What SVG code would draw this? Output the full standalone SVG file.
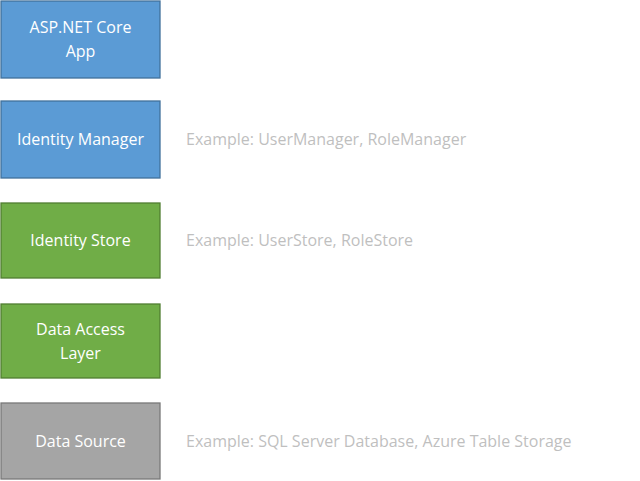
<svg xmlns="http://www.w3.org/2000/svg" width="640" height="481" viewBox="0 0 640 481">
<style>
rect{stroke-width:1.3}
.b{fill:#5B9BD5;stroke:#41719C}
.g{fill:#70AD47;stroke:#507E32}
.s{fill:#A5A5A5;stroke:#787878}
text{font-family:"Open Sans","Liberation Sans",sans-serif;font-size:16px}
.w{fill:#fff;text-anchor:middle}
.e{fill:#BFBFBF}
</style>
<rect width="640" height="481" fill="#fff"/>
<g id="aspnet"><rect class="b" x="1" y="1" width="159" height="77"/><text class="w" x="80.5" y="33">ASP.NET Core</text><text class="w" x="80.5" y="57">App</text></g>
<g id="manager"><rect class="b" x="1" y="101" width="159" height="77"/><text class="w" x="80.5" y="145">Identity Manager</text></g>
<g id="store"><rect class="g" x="1" y="203" width="159" height="75"/><text class="w" x="80.5" y="246">Identity Store</text></g>
<g id="dal"><rect class="g" x="1" y="304" width="159" height="74"/><text class="w" x="80.5" y="335">Data Access</text><text class="w" x="80.5" y="359">Layer</text></g>
<g id="source"><rect class="s" x="1" y="403" width="159" height="76"/><text class="w" x="80.5" y="447">Data Source</text></g>
<g id="connectors"/>
<text class="e" x="186" y="145">Example: UserManager, RoleManager</text>
<text class="e" x="186" y="246">Example: UserStore, RoleStore</text>
<text class="e" x="186" y="447">Example: SQL Server Database, Azure Table Storage</text>
</svg>
